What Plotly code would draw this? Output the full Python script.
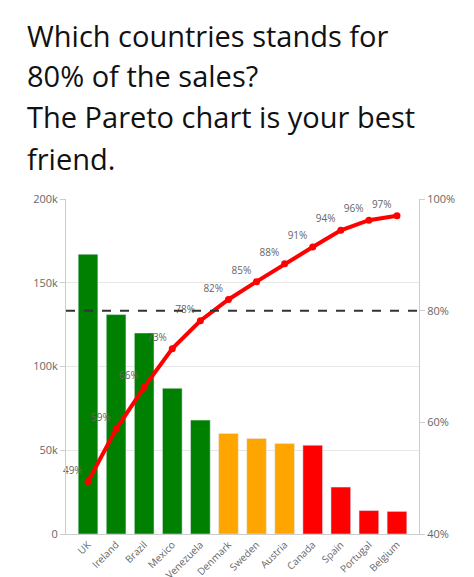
import plotly.graph_objects as go

countries = ["UK","Ireland","Brazil","Mexico","Venezuela","Denmark","Sweden","Austria","Canada","Spain","Portugal","Belgium"]
sales = [167000,131000,120000,87000,68000,60000,57000,54000,53000,28000,14000,13500]
cum_pct = [49.4,58.8,66.3,73.2,78.2,82.0,85.2,88.4,91.4,94.4,96.2,97.0]
bar_colors = ["green"]*5 + ["orange"]*3 + ["red"]*4
threshold = 80
title_lines = ["Which countries stands for", "80% of the sales?", "The Pareto chart is your best", "friend."]

fig = go.Figure()
fig.add_bar(x=countries, y=sales, marker_color=bar_colors, width=0.7, showlegend=False)
fig.add_scatter(x=countries, y=cum_pct, yaxis="y2", mode="lines+markers+text",
                line=dict(color="red", width=4), marker=dict(color="red", size=7),
                text=[f"{round(v)}%" for v in cum_pct], textposition="top left",
                textfont=dict(size=10, color="#666"), showlegend=False, cliponaxis=False)
fig.add_shape(type="line", xref="paper", x0=0, x1=1, yref="y2", y0=threshold, y1=threshold,
              line=dict(color="#333", width=2, dash="dash"))
for i, line in enumerate(title_lines):
    fig.add_annotation(text=line, xref="paper", yref="paper", x=-0.115, y=1.0 + (164 - 41 * i) / 335,
                       xanchor="left", yanchor="middle", align="left", showarrow=False,
                       font=dict(size=29, color="#111", family="Open Sans"))
fig.update_layout(
    width=474, height=577, plot_bgcolor="white", paper_bgcolor="white",
    font=dict(family="Open Sans", color="#666"),
    margin=dict(l=58, r=63, t=191, b=51, autoexpand=False),
    xaxis=dict(tickangle=-45, tickfont=dict(size=10), showline=True, linecolor="#ccc", automargin=False),
    yaxis=dict(range=[0,200000], tickvals=[0,50000,100000,150000,200000],
               ticktext=["0","50k","100k","150k","200k"], gridcolor="#e6e6e6",
               showline=True, linecolor="#ccc", ticks="outside", ticklen=5, tickcolor="#ccc",
               tickfont=dict(size=11), automargin=False),
    yaxis2=dict(overlaying="y", side="right", range=[40,100], tickvals=[40,60,80,100],
                ticktext=["40%","60%","80%","100%"], showgrid=False, showline=True,
                linecolor="#ccc", ticks="outside", ticklen=5, tickcolor="#ccc",
                tickfont=dict(size=11), automargin=False),
)
fig.write_html("out.html")
